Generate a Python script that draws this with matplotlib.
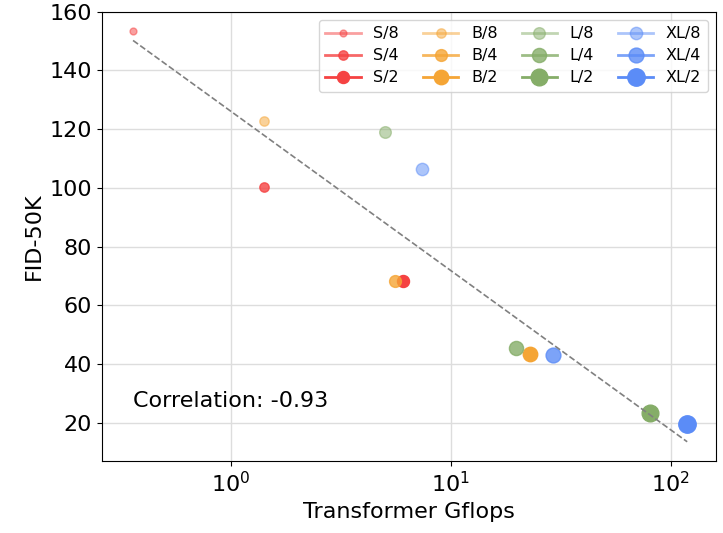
import numpy as np
import matplotlib.pyplot as plt

models = ['S/8', 'S/4', 'S/2', 'B/8', 'B/4', 'B/2', 'L/8', 'L/4', 'L/2', 'XL/8', 'XL/4', 'XL/2']
gflops = [0.36, 1.41, 6.06, 1.42, 5.56, 23.01, 5.01, 19.70, 80.71, 7.39, 29.05, 118.64]
fid = [153.6, 100.4, 68.4, 122.7, 68.4, 43.5, 118.9, 45.6, 23.3, 106.4, 43.0, 19.5]

base = {'S': '#f54242', 'B': '#f5a535', 'L': '#85ad68', 'XL': '#5b8cf7'}
alpha = {'8': 0.5, '4': 0.8, '2': 1.0}

fig = plt.figure(figsize=(7.23, 5.33), dpi=100)
ax = fig.add_axes([0.141, 0.135, 0.849, 0.843])

for m, g, f in zip(models, gflops, fid):
    s, p = m.split('/')
    ms = 6.3 + 3.0 * np.log10(g)
    ax.plot([g], [f], marker='o', color=base[s], alpha=alpha[p],
            markersize=ms, linewidth=2, label=m)

lx = np.log10(gflops)
k, b = np.polyfit(lx, fid, 1)
xs = np.linspace(min(lx), max(lx), 50)
ax.plot(10 ** xs, k * xs + b, '--', color='grey', linewidth=1.2)

r = np.corrcoef(lx, fid)[0, 1]
ax.text(0.05, 0.12, f'Correlation: {r:.2f}', transform=ax.transAxes, fontsize=16)

ax.set_xscale('log')
ax.set_xlim(0.26, 160)
ax.set_ylim(7, 160)
ax.minorticks_off()
ax.grid(True, color='#dddddd', linewidth=1)
ax.set_axisbelow(True)
ax.tick_params(labelsize=16)
ax.set_xlabel('Transformer Gflops', fontsize=16)
ax.set_ylabel('FID-50K', fontsize=16)
ax.legend(ncol=4, fontsize=11.5, loc='upper right', columnspacing=1.5,
          handlelength=2.2, borderpad=0.4, labelspacing=0.45)

fig.savefig('out.png', dpi=100)
